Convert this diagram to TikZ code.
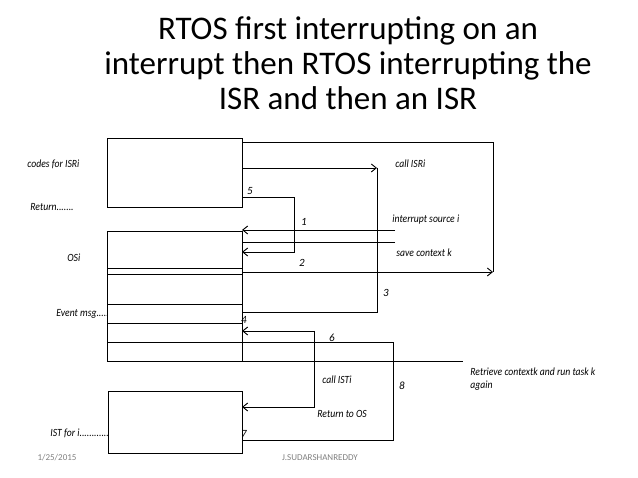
\documentclass[tikz,border=0pt]{standalone}
\usepackage{fontspec}
\setmainfont{Carlito}
\usetikzlibrary{arrows.meta}
\begin{document}
\begin{tikzpicture}[x=1pt,y=-1pt,line width=0.9pt,
  lab/.style={font=\itshape\fontsize{11}{13}\selectfont,inner sep=0pt,anchor=west,xscale=0.88},
  num/.style={font=\itshape\fontsize{11}{12}\selectfont,inner sep=0pt},
  ar/.style={-{Straight Barb[length=5pt,width=8pt]}},
  foot/.style={font=\fontsize{9}{10}\selectfont,text=gray,inner sep=0pt}]
\useasboundingbox (0,0) rectangle (638,478);
\node[align=center,font=\fontsize{33}{35}\selectfont,inner sep=0pt] (title) at (348,63) {RTOS first interrupting on an\\interrupt then RTOS interrupting the\\ISR and then an ISR};
% boxes
\draw (107,138) rectangle (242,207);
\draw (107,231) rectangle (242,361);
\draw (108,391) rectangle (242,453);
\foreach \y in {268,274,304,323,342} \draw (107,\y) -- (242,\y);
% coordinates
\coordinate (a1) at (242,142); \coordinate (a2) at (493,142); \coordinate (a3) at (493,272); \coordinate (a0) at (242,272);
\coordinate (b0) at (242,168); \coordinate (b1) at (377,168); \coordinate (b2) at (377,312); \coordinate (b3) at (242,312);
\coordinate (c0) at (242,197); \coordinate (c1) at (294,197); \coordinate (c2) at (294,252); \coordinate (c3) at (242,252);
\coordinate (d0) at (395,230); \coordinate (d1) at (242,230);
\coordinate (e0) at (395,242); \coordinate (e1) at (242,242);
\coordinate (f0) at (314,331); \coordinate (f1) at (242,331); \coordinate (f2) at (314,407); \coordinate (f3) at (242,407);
\coordinate (g0) at (242,342); \coordinate (g1) at (393,342); \coordinate (g2) at (393,440); \coordinate (g3) at (242,440);
\coordinate (h0) at (242,361); \coordinate (h1) at (463,361);
\draw (a1) -- (a2) -- (a3);
\draw[ar] (a0) -- (a3);
\draw[ar] (b0) -- (b1);
\draw (b1) -- (b2) -- (b3);
\draw[ar] (c0) -- (c1) -- (c2) -- (c3);
\draw[ar] (d0) -- (d1);
\draw (e0) -- (e1);
\draw[ar] (f0) -- (f1);
\draw[ar] (f0) -- (f2) -- (f3);
\draw (g0) -- (g1) -- (g2) -- (g3);
\draw (h0) -- (h1);
% numbers
\node[num] (n5) at (250,191) {5};
\node[num] (n1) at (304,222) {1};
\node[num] (n2) at (302,263) {2};
\node[num] (n3) at (386,293) {3};
\node[num] (n4) at (244,320) {4};
\node[num] (n6) at (332,338) {6};
\node[num] (n8) at (402,386) {8};
\node[num] (n7) at (244,434) {7};
% left labels
\node[lab] (l1) at (27,164) {codes for ISRi};
\node[lab] (l2) at (30,207) {Return.......};
\node[lab] (l3) at (67,258) {OSi};
\node[lab] (l4) at (56,314) {Event msg.....};
\node[lab] (l5) at (50,433) {IST for i............};
% right labels
\node[lab] (r1) at (395,164) {call ISRi};
\node[lab] (r2) at (392,220) {interrupt source i};
\node[lab] (r3) at (396,253) {save context k};
\node[lab] (r4) at (322,380) {call ISTi};
\node[lab] (r5) at (317,414) {Return to OS};
\node[lab,align=left] (r6) at (470,379) {Retrieve contextk and run task k\\again};
\node[foot] (f1t) at (57,458) {1/25/2015};
\node[foot] (f2t) at (320,458) {J.SUDARSHANREDDY};
\end{tikzpicture}
\end{document}
